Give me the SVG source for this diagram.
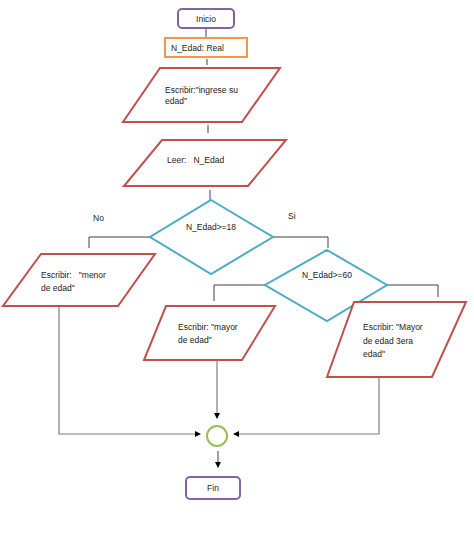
<svg xmlns="http://www.w3.org/2000/svg" width="474" height="533" viewBox="0 0 474 533">
<defs>
<marker id="arr" markerWidth="6" markerHeight="6" refX="5" refY="3" orient="auto" markerUnits="userSpaceOnUse">
<path d="M0,0 L6,3 L0,6 z" fill="#000"/>
</marker>
<style>
text{font-family:"Liberation Sans",Arial,sans-serif;font-size:8.5px;fill:#222;white-space:pre}
.term{fill:#fff;stroke:#8064A2;stroke-width:2}
.proc{fill:#fff;stroke:#F79646;stroke-width:2}
.io{fill:#fff;stroke:#C0504D;stroke-width:2}
.dec{fill:#fff;stroke:#4BACC6;stroke-width:2}
.con{fill:none;stroke:#404040;stroke-width:1}
.gray{fill:none;stroke:#7f7f7f;stroke-width:1.2}
</style>
</defs>
<rect width="474" height="533" fill="#fff"/>
<g id="connectors">
<line class="con" x1="206" y1="28" x2="206" y2="38"/>
<line class="con" x1="207" y1="59" x2="207" y2="65"/>
<line class="con" x1="208" y1="125" x2="208" y2="133"/>
<line class="con" x1="210" y1="190" x2="210" y2="200"/>
<polyline class="con" points="150,237 89,237 89,248"/>
<polyline class="con" points="273,237 328,237 328,248"/>
<polyline class="con" points="265,285 214,285 214,301"/>
<polyline class="con" points="387,285 438,285 438,297"/>
<polyline class="gray" points="59,306 59,434 200,434" marker-end="url(#arr)"/>
<line class="gray" x1="217" y1="360" x2="217" y2="418" marker-end="url(#arr)"/>
<polyline class="gray" points="379,377 379,434 234,434" marker-end="url(#arr)"/>
<line class="con" x1="218" y1="451" x2="218" y2="467" marker-end="url(#arr)"/>
<text x="93" y="221">No</text>
<text x="288" y="219">Si</text>
</g>
<g id="inicio">
<rect class="term" x="178" y="9" width="56" height="19" rx="4"/>
<text x="206" y="21.5" text-anchor="middle">Inicio</text>
</g>
<g id="decl">
<rect class="proc" x="165" y="38" width="82" height="19"/>
<text x="171" y="50.5">N_Edad: Real</text>
</g>
<g id="escribir1">
<polygon class="io" points="160,68 280,68 242,122 123,122"/>
<text x="165" y="93">Escribir:"ingrese su</text>
<text x="165" y="104">edad"</text>
</g>
<g id="leer">
<polygon class="io" points="162,140 286,140 248,186 124,186"/>
<text x="167" y="163">Leer:   N_Edad</text>
</g>
<g id="dec1">
<polygon class="dec" points="211,200 273,237 211,274 150,237"/>
<text x="211" y="230" text-anchor="middle">N_Edad&gt;=18</text>
</g>
<g id="menor">
<polygon class="io" points="41,254 155,254 118,306 3,306"/>
<text x="41" y="278">Escribir:   "menor</text>
<text x="41" y="291">de edad"</text>
</g>
<g id="dec2">
<polygon class="dec" points="327,250 387,285 327,321 265,285"/>
<text x="327" y="278" text-anchor="middle">N_Edad&gt;=60</text>
</g>
<g id="mayor">
<polygon class="io" points="166,306 275,306 242,360 144,360"/>
<text x="178" y="330">Escribir: "mayor</text>
<text x="178" y="343">de edad"</text>
</g>
<g id="tercera">
<polygon class="io" points="354,302 466,302 432,377 327,377"/>
<text x="363" y="330">Escribir: "Mayor</text>
<text x="363" y="344">de edad 3era</text>
<text x="363" y="357">edad"</text>
</g>
<g id="union">
<circle cx="217" cy="436" r="10" fill="#fff" stroke="#9BBB59" stroke-width="2"/>
</g>
<g id="fin">
<rect class="term" x="186" y="477" width="54" height="22" rx="4"/>
<text x="213" y="491" text-anchor="middle">Fin</text>
</g>
</svg>
